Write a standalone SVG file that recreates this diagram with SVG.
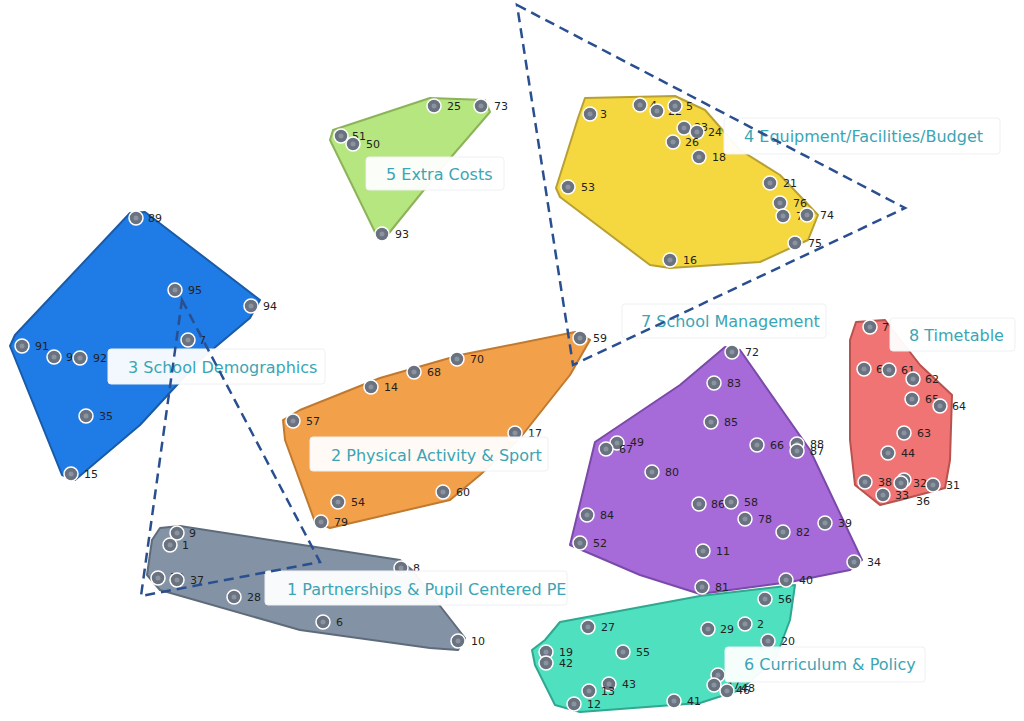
<svg xmlns="http://www.w3.org/2000/svg" width="1024" height="721" viewBox="0 0 1024 721">
<style>
.hull{stroke-width:2;stroke-linejoin:round}
.o{fill:#6a7280;stroke:#fff;stroke-width:1.5}
.i{fill:#8a93a0}
.pl{font-family:"DejaVu Sans",sans-serif;font-size:11px;fill:#222}
.lb rect{fill:#fff;fill-opacity:0.95;stroke:#eef0f2;stroke-width:1}
.lb text{font-family:"DejaVu Sans",sans-serif;font-size:16px;fill:#3aa5b5}
.dash{fill:none;stroke:#2a4f90;stroke-width:2.5;stroke-dasharray:10,6}
</style>
<defs>
<g id="p"><circle class="o" r="7"/><circle class="i" r="2.5"/></g>
</defs>
<rect width="1024" height="721" fill="#fff"/>

<g id="c4">
<polygon class="hull" fill="#f5d83f" stroke="#b8a032" points="585,98 675,96 705,110 740,150 780,175 818,215 808,240 760,262 670,268 650,265 560,197 556,188 578,118"/>
</g>
<g id="c5">
<polygon class="hull" fill="#b5e67f" stroke="#8cb35a" points="333,130 430,98 485,100 490,112 440,170 385,238 375,232 330,140"/>
</g>
<g id="c3">
<polygon class="hull" fill="#1f7ce6" stroke="#1a5ba8" points="130,213 145,212 260,300 250,318 200,360 140,425 75,480 62,475 10,346 15,335"/>
</g>
<g id="c2">
<polygon class="hull" fill="#f3a04a" stroke="#c07a30" points="575,332 590,340 570,375 520,438 480,475 450,500 330,528 315,522 285,440 283,420 300,410 380,378 460,355"/>
</g>
<g id="c1">
<polygon class="hull" fill="#8393a5" stroke="#5e6b7a" points="160,528 180,526 400,560 412,570 465,638 458,650 430,648 300,630 160,590 147,575 152,540"/>
</g>
<g id="c7">
<polygon class="hull" fill="#a66ad9" stroke="#7a4aa8" points="725,347 740,350 810,450 862,560 850,570 790,582 700,594 640,575 570,545 595,442 680,385"/>
</g>
<g id="c8">
<polygon class="hull" fill="#f07473" stroke="#b8524f" points="856,322 885,320 920,365 952,395 950,460 945,488 900,500 880,505 855,485 850,440 850,340"/>
</g>
<g id="c6">
<polygon class="hull" fill="#4fe0c0" stroke="#30a890" points="560,622 700,596 795,585 790,620 775,660 740,690 700,703 580,712 555,705 535,665 532,650 545,640"/>
</g>

<g id="points">
<use href="#p" x="590" y="114"/><text class="pl" x="600" y="118">3</text>
<use href="#p" x="640" y="105"/><text class="pl" x="650" y="109">4</text>
<use href="#p" x="657" y="111"/><text class="pl" x="668" y="115">22</text>
<use href="#p" x="675" y="106"/><text class="pl" x="686" y="110">5</text>
<use href="#p" x="684" y="128"/><text class="pl" x="694" y="131">23</text>
<use href="#p" x="697" y="132"/><text class="pl" x="708" y="136">24</text>
<use href="#p" x="673" y="142"/><text class="pl" x="685" y="146">26</text>
<use href="#p" x="699" y="157"/><text class="pl" x="712" y="161">18</text>
<use href="#p" x="568" y="187"/><text class="pl" x="581" y="191">53</text>
<use href="#p" x="770" y="183"/><text class="pl" x="783" y="187">21</text>
<use href="#p" x="780" y="203"/><text class="pl" x="793" y="207">76</text>
<use href="#p" x="783" y="216"/><text class="pl" x="796" y="220">77</text>
<use href="#p" x="807" y="215"/><text class="pl" x="820" y="219">74</text>
<use href="#p" x="795" y="243"/><text class="pl" x="808" y="247">75</text>
<use href="#p" x="670" y="260"/><text class="pl" x="683" y="264">16</text>

<use href="#p" x="434" y="106"/><text class="pl" x="447" y="110">25</text>
<use href="#p" x="481" y="106"/><text class="pl" x="494" y="110">73</text>
<use href="#p" x="341" y="136"/><text class="pl" x="352" y="140">51</text>
<use href="#p" x="353" y="144"/><text class="pl" x="366" y="148">50</text>
<use href="#p" x="382" y="234"/><text class="pl" x="395" y="238">93</text>

<use href="#p" x="136" y="218"/><text class="pl" x="148" y="222">89</text>
<use href="#p" x="175" y="290"/><text class="pl" x="188" y="294">95</text>
<use href="#p" x="251" y="306"/><text class="pl" x="263" y="310">94</text>
<use href="#p" x="188" y="340"/><text class="pl" x="199" y="344">7</text>
<use href="#p" x="22" y="346"/><text class="pl" x="35" y="350">91</text>
<use href="#p" x="54" y="357"/><text class="pl" x="66" y="361">90</text>
<use href="#p" x="80" y="358"/><text class="pl" x="93" y="362">92</text>
<use href="#p" x="86" y="416"/><text class="pl" x="99" y="420">35</text>
<use href="#p" x="71" y="474"/><text class="pl" x="84" y="478">15</text>

<use href="#p" x="580" y="338"/><text class="pl" x="593" y="342">59</text>
<use href="#p" x="457" y="359"/><text class="pl" x="470" y="363">70</text>
<use href="#p" x="414" y="372"/><text class="pl" x="427" y="376">68</text>
<use href="#p" x="371" y="387"/><text class="pl" x="384" y="391">14</text>
<use href="#p" x="293" y="421"/><text class="pl" x="306" y="425">57</text>
<use href="#p" x="515" y="433"/><text class="pl" x="528" y="437">17</text>
<use href="#p" x="338" y="502"/><text class="pl" x="351" y="506">54</text>
<use href="#p" x="443" y="492"/><text class="pl" x="456" y="496">60</text>
<use href="#p" x="321" y="522"/><text class="pl" x="334" y="526">79</text>

<use href="#p" x="177" y="533"/><text class="pl" x="189" y="537">9</text>
<use href="#p" x="170" y="545"/><text class="pl" x="182" y="549">1</text>
<use href="#p" x="158" y="578"/><text class="pl" x="170" y="581">30</text>
<use href="#p" x="177" y="580"/><text class="pl" x="190" y="584">37</text>
<use href="#p" x="401" y="568"/><text class="pl" x="413" y="572">8</text>
<use href="#p" x="234" y="597"/><text class="pl" x="247" y="601">28</text>
<use href="#p" x="323" y="622"/><text class="pl" x="336" y="626">6</text>
<use href="#p" x="458" y="641"/><text class="pl" x="471" y="645">10</text>

<use href="#p" x="732" y="352"/><text class="pl" x="745" y="356">72</text>
<use href="#p" x="714" y="383"/><text class="pl" x="727" y="387">83</text>
<use href="#p" x="711" y="422"/><text class="pl" x="724" y="426">85</text>
<use href="#p" x="757" y="445"/><text class="pl" x="770" y="449">66</text>
<use href="#p" x="797" y="444"/><text class="pl" x="810" y="448">88</text>
<use href="#p" x="797" y="451"/><text class="pl" x="810" y="455">87</text>
<use href="#p" x="617" y="443"/><text class="pl" x="630" y="446">49</text>
<use href="#p" x="606" y="449"/><text class="pl" x="619" y="453">67</text>
<use href="#p" x="652" y="472"/><text class="pl" x="665" y="476">80</text>
<use href="#p" x="699" y="504"/><text class="pl" x="711" y="508">86</text>
<use href="#p" x="731" y="502"/><text class="pl" x="744" y="506">58</text>
<use href="#p" x="745" y="519"/><text class="pl" x="758" y="523">78</text>
<use href="#p" x="783" y="532"/><text class="pl" x="796" y="536">82</text>
<use href="#p" x="825" y="523"/><text class="pl" x="838" y="527">39</text>
<use href="#p" x="587" y="515"/><text class="pl" x="600" y="519">84</text>
<use href="#p" x="580" y="543"/><text class="pl" x="593" y="547">52</text>
<use href="#p" x="703" y="551"/><text class="pl" x="716" y="555">11</text>
<use href="#p" x="854" y="562"/><text class="pl" x="867" y="566">34</text>
<use href="#p" x="702" y="587"/><text class="pl" x="715" y="591">81</text>
<use href="#p" x="786" y="580"/><text class="pl" x="799" y="584">40</text>

<use href="#p" x="870" y="327"/><text class="pl" x="882" y="331">7</text>
<use href="#p" x="864" y="369"/><text class="pl" x="876" y="373">69</text>
<use href="#p" x="889" y="370"/><text class="pl" x="901" y="374">61</text>
<use href="#p" x="913" y="379"/><text class="pl" x="925" y="383">62</text>
<use href="#p" x="912" y="399"/><text class="pl" x="925" y="403">65</text>
<use href="#p" x="940" y="406"/><text class="pl" x="952" y="410">64</text>
<use href="#p" x="904" y="433"/><text class="pl" x="917" y="437">63</text>
<use href="#p" x="888" y="453"/><text class="pl" x="901" y="457">44</text>
<use href="#p" x="865" y="482"/><text class="pl" x="878" y="486">38</text>
<use href="#p" x="904" y="480"/>
<use href="#p" x="901" y="483"/><text class="pl" x="913" y="487">32</text>
<use href="#p" x="883" y="495"/><text class="pl" x="895" y="499">33</text>
<use href="#p" x="933" y="485"/><text class="pl" x="946" y="489">31</text>
<text class="pl" x="916" y="505">36</text>

<use href="#p" x="765" y="599"/><text class="pl" x="778" y="603">56</text>
<use href="#p" x="745" y="624"/><text class="pl" x="757" y="628">2</text>
<use href="#p" x="708" y="629"/><text class="pl" x="720" y="633">29</text>
<use href="#p" x="768" y="641"/><text class="pl" x="781" y="645">20</text>
<use href="#p" x="588" y="627"/><text class="pl" x="601" y="631">27</text>
<use href="#p" x="546" y="652"/><text class="pl" x="559" y="656">19</text>
<use href="#p" x="546" y="663"/><text class="pl" x="559" y="667">42</text>
<use href="#p" x="623" y="652"/><text class="pl" x="636" y="656">55</text>
<use href="#p" x="609" y="684"/><text class="pl" x="622" y="688">43</text>
<use href="#p" x="589" y="691"/><text class="pl" x="601" y="695">13</text>
<use href="#p" x="574" y="704"/><text class="pl" x="587" y="708">12</text>
<use href="#p" x="674" y="701"/><text class="pl" x="687" y="705">41</text>
<use href="#p" x="718" y="675"/>
<use href="#p" x="714" y="685"/><text class="pl" x="726" y="689">47</text>
<use href="#p" x="727" y="691"/><text class="pl" x="736" y="694">46</text><text class="pl" x="741" y="692">48</text>
</g>

<g id="labels">
<g class="lb"><rect x="724" y="118" width="276" height="36" rx="3"/><text x="744" y="142">4 Equipment/Facilities/Budget</text></g>
<g class="lb"><rect x="366" y="157" width="138" height="33" rx="3"/><text x="386" y="180">5 Extra Costs</text></g>
<g class="lb"><rect x="108" y="349" width="217" height="35" rx="3"/><text x="128" y="373">3 School Demographics</text></g>
<g class="lb"><rect x="310" y="437" width="238" height="34" rx="3"/><text x="331" y="461">2 Physical Activity &amp; Sport</text></g>
<g class="lb"><rect x="265" y="571" width="302" height="34" rx="3"/><text x="287" y="595">1 Partnerships &amp; Pupil Centered PE</text></g>
<g class="lb"><rect x="622" y="304" width="204" height="34" rx="3"/><text x="641" y="327">7 School Management</text></g>
<g class="lb"><rect x="890" y="318" width="125" height="33" rx="3"/><text x="909" y="341">8 Timetable</text></g>
<g class="lb"><rect x="725" y="647" width="200" height="35" rx="3"/><text x="744" y="670">6 Curriculum &amp; Policy</text></g>
</g>

<g id="connectors">
<polygon class="dash" points="517,5 905,208 573,365"/>
<polygon class="dash" points="182,300 320,562 141,596"/>
</g>
</svg>
